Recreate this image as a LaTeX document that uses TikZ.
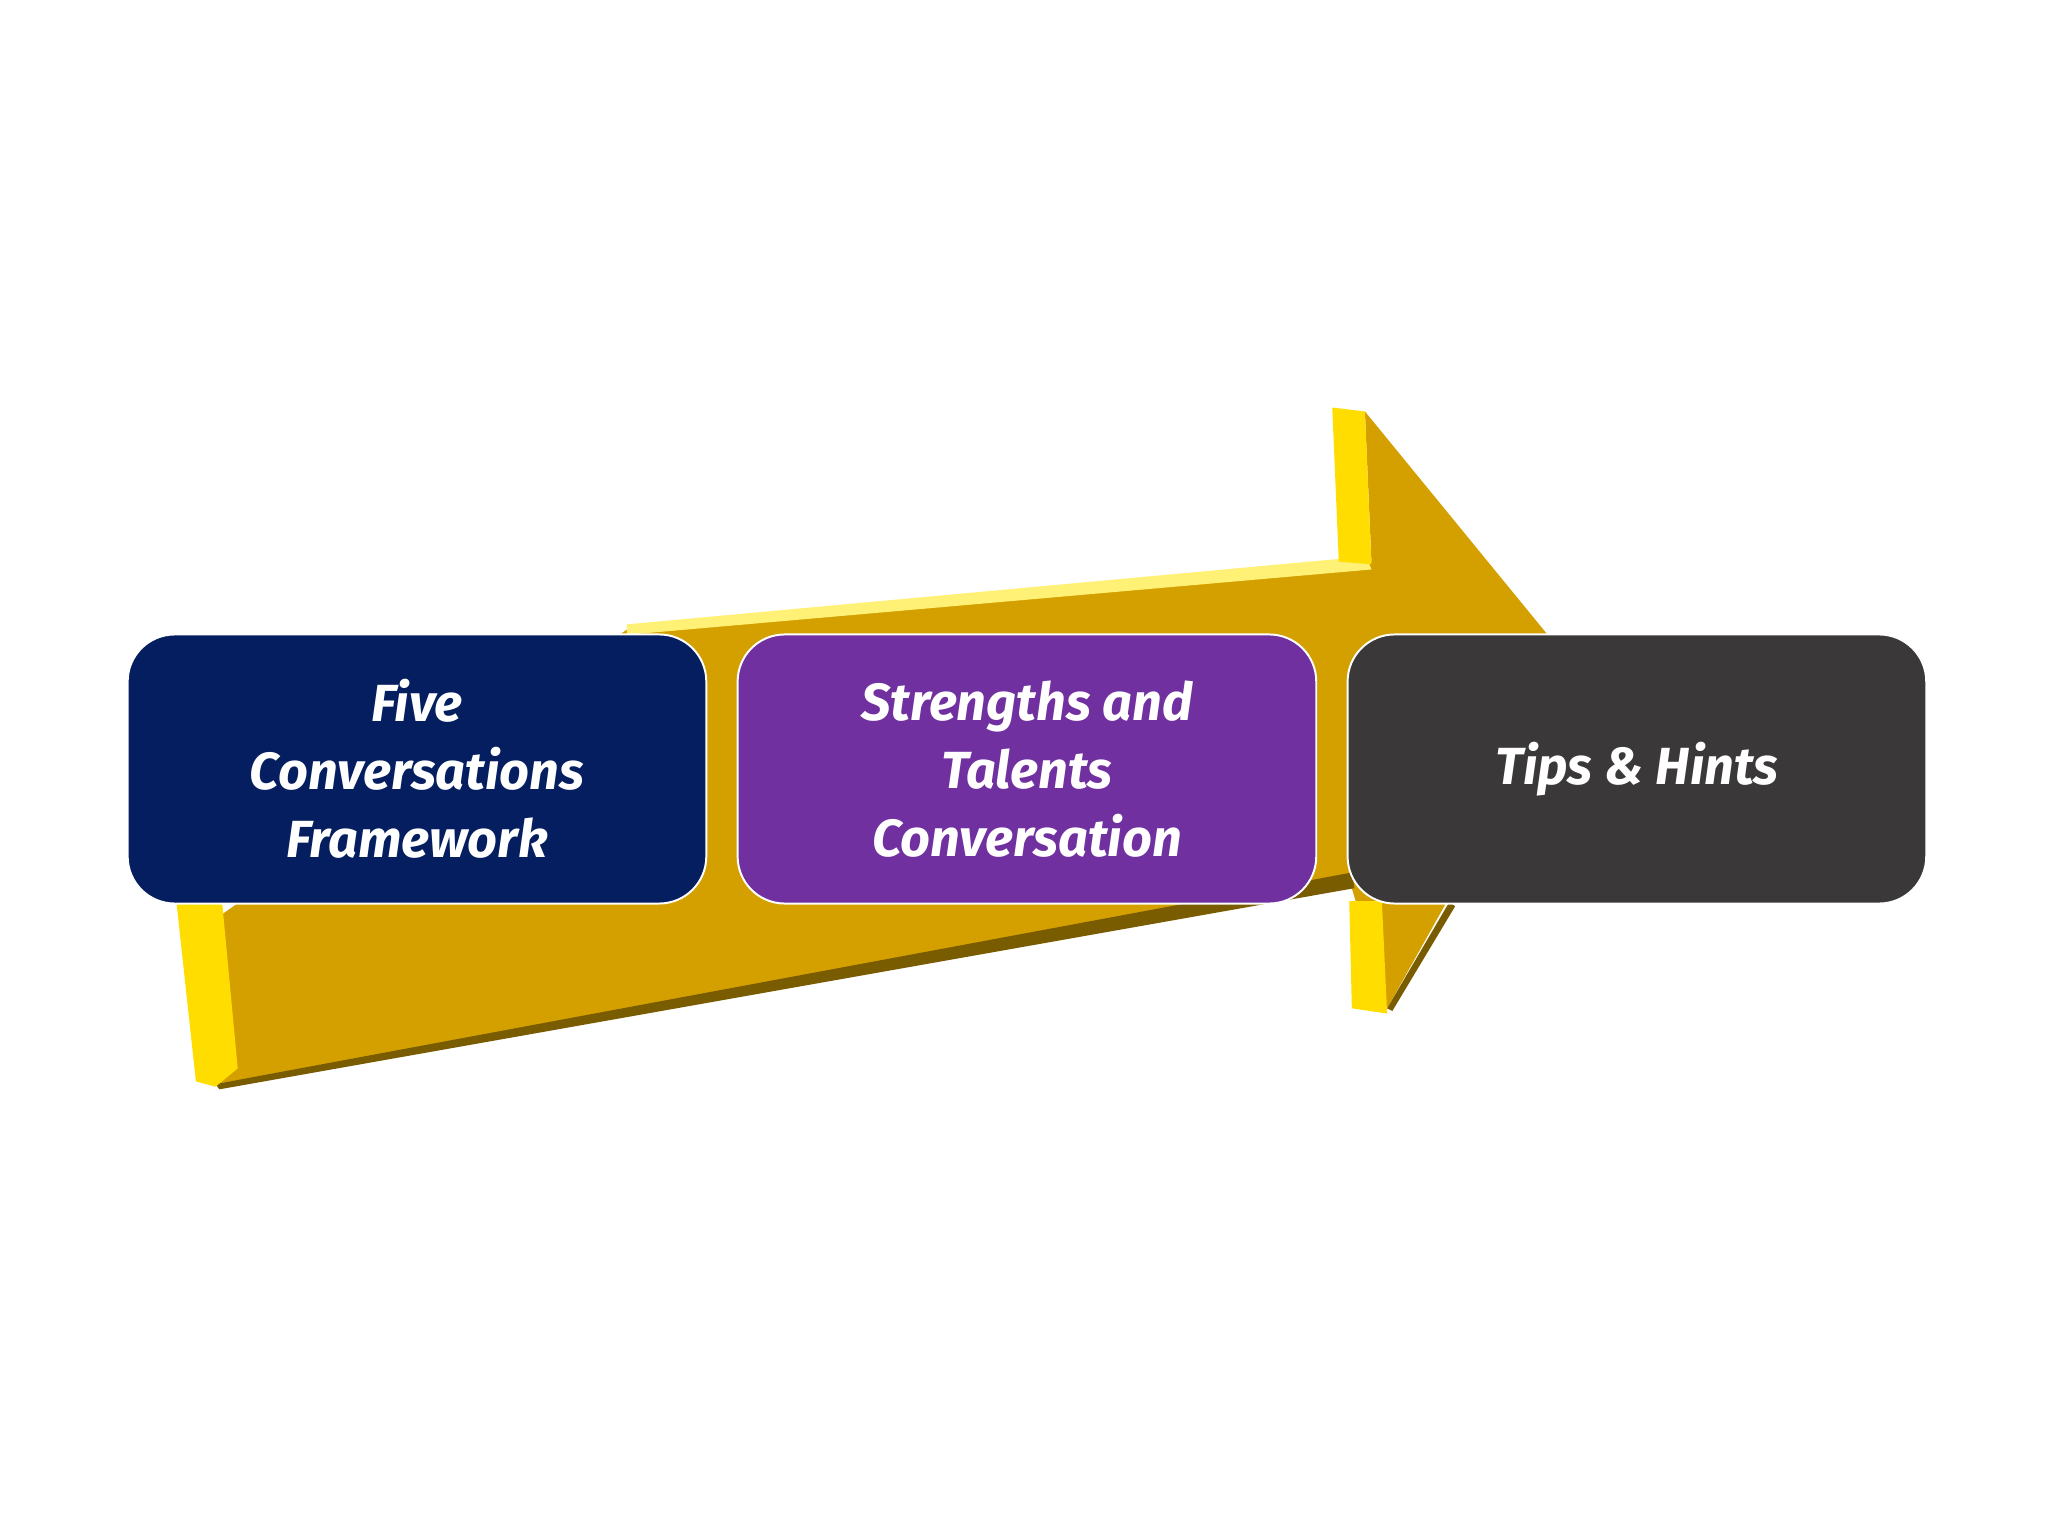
\documentclass[tikz,border=0pt]{standalone}
\usepackage{fontspec}
\setmainfont{Fira Sans}
\begin{document}
\begin{tikzpicture}[x=1pt,y=-1pt,
  box/.style={draw=white,line width=1.5pt,rounded corners=36pt,minimum width=443pt,minimum height=206pt,anchor=north west,text=white,align=center,font=\fontsize{40}{52}\selectfont\bfseries\itshape,inner sep=0pt}]
\definecolor{gold}{HTML}{D4A000}
\definecolor{dgold}{HTML}{7A5C00}
\definecolor{ylw}{HTML}{FFDD00}
\definecolor{lylw}{HTML}{FFF176}
\useasboundingbox[fill=white] (0,0) rectangle (1568,1176);
% main face
\fill[gold] (170,700) -- (480,482) -- (1050,430) -- (1045,315) -- (1207,513) -- (1062,772) -- (1035,680) -- (165,830) -- cycle;
% top highlight strip
\fill[lylw] (480,478) -- (1046,426) -- (1050,436) -- (480,486) -- cycle;
% bottom dark strip
\fill[dgold] (165,830) -- (1035,668) -- (1037,680) -- (168,834) -- cycle;
\fill[dgold] (1062,772) -- (1110,690) -- (1114,694) -- (1066,774) -- cycle;
% tail face
\fill[ylw] (135,690) -- (170,690) -- (182,818) -- (165,832) -- (150,828) -- cycle;
% head flange faces
\fill[ylw] (1020,312) -- (1045,315) -- (1050,432) -- (1025,430) -- cycle;
\fill[ylw] (1033,690) -- (1058,690) -- (1062,776) -- (1035,772) -- cycle;
\node[box,fill={rgb,255:red,4;green,30;blue,96}] (b1) at (97,485) {Five\\Conversations\\Framework};
\node[box,fill={rgb,255:red,112;green,48;blue,160}] (b2) at (564,485) {Strengths and\\Talents\\Conversation};
\node[box,fill={rgb,255:red,59;green,56;blue,57}] (b3) at (1031,485) {Tips \& Hints};
\end{tikzpicture}
\end{document}
